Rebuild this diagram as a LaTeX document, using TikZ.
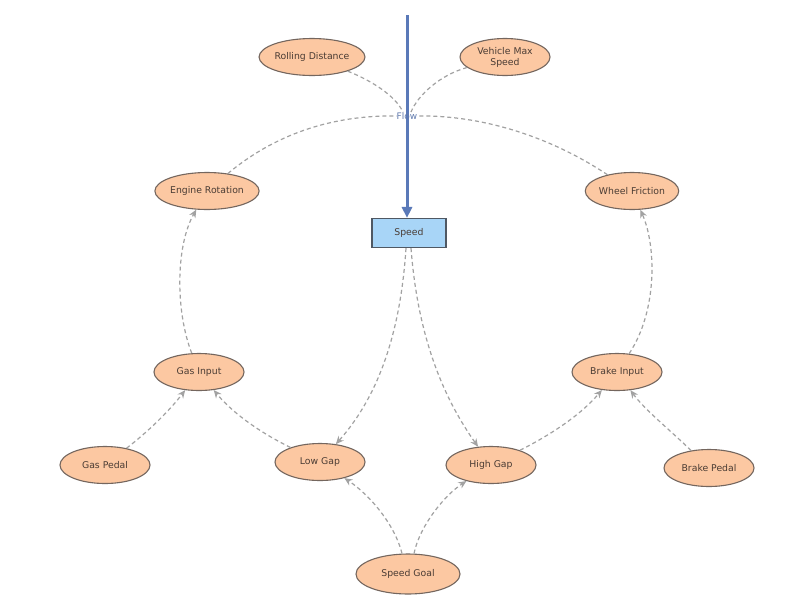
\documentclass[tikz,border=0pt]{standalone}
\usepackage{fontspec}
\setmainfont{DejaVu Sans}
\usetikzlibrary{arrows.meta,shapes.geometric}
\definecolor{peach}{HTML}{FCC8A2}
\definecolor{peachborder}{HTML}{74665E}
\definecolor{boxblue}{HTML}{A8D5F7}
\definecolor{boxborder}{HTML}{4F5863}
\definecolor{flowblue}{HTML}{5A79B8}
\definecolor{linkgray}{HTML}{A2A2A2}
\definecolor{txt}{HTML}{4A3C34}
\tikzset{
  var/.style={ellipse, draw=peachborder, fill=peach, line width=1.1pt, minimum width=90pt, minimum height=37pt, inner sep=0pt, align=center, text=txt, font=\fontsize{9.3}{11}\selectfont},
  stock/.style={rectangle, draw=boxborder, fill=boxblue, line width=1.1pt, minimum width=74pt, minimum height=29pt, inner sep=0pt, text=txt, font=\fontsize{9.3}{11}\selectfont},
  link/.style={draw=linkgray, line width=1.2pt, dash pattern=on 4pt off 3pt},
  linkarr/.style={link, -{Stealth[length=8pt,width=7pt,fill=linkgray]}},
  flowline/.style={draw=flowblue, line width=3pt},
}
\begin{document}
\begin{tikzpicture}[x=1pt,y=-1pt]
\useasboundingbox (0,0) rectangle (800,600);
\fill[white] (0,0) rectangle (800,600);

% nodes
\node[var] (rd) at (312,57) {Rolling Distance};
\node[var] (vms) at (505,57) {Vehicle Max\\Speed};
\node[var] (er) at (207,191) {Engine Rotation};
\node[var] (wf) at (632,191) {Wheel Friction};
\node[stock] (speed) at (409,233) {Speed};
\node[var] (gi) at (199,372) {Gas Input};
\node[var] (bi) at (617,372) {Brake Input};
\node[var] (gp) at (105,465) {Gas Pedal};
\node[var] (lg) at (320,462) {Low Gap};
\node[var] (hg) at (491,465) {High Gap};
\node[var] (bp) at (709,468) {Brake Pedal};
\node[var, minimum width=104pt, minimum height=40pt] (sg) at (408,574) {Speed Goal};

% flow
\coordinate (src) at (407,15);
\draw[flowline, -{Triangle[length=11pt,width=10pt]}] (src) -- (speed.north -| src);
\node[inner sep=0pt, text=flowblue!80!gray, font=\fontsize{9}{10}\selectfont] (flow) at (407,116) {Flow};
\coordinate (fl) at (403,112);
\coordinate (fr) at (411,112);

% links to flow
\draw[link] (rd) .. controls (370,80) and (395,95) .. (fl);
\draw[link] (vms) .. controls (440,75) and (418,95) .. (fr);
\draw[link] (er) .. controls (280,130) and (340,115) .. (flow.west);
\draw[link] (wf) .. controls (540,130) and (470,115) .. (flow.east);

% arrows
\draw[linkarr] (gi) .. controls (175,310) and (176,245) .. (er);
\draw[linkarr] (bi) .. controls (658,310) and (656,245) .. (wf);
\draw[linkarr] ([xshift=-3pt]speed.south) .. controls (400,340) and (375,400) .. (lg);
\draw[linkarr] ([xshift=2pt]speed.south) .. controls (418,340) and (445,400) .. (hg);
\draw[linkarr] (lg) .. controls (255,430) and (230,410) .. (gi);
\draw[linkarr] (gp) .. controls (150,430) and (170,410) .. (gi);
\draw[linkarr] (hg) .. controls (560,430) and (585,410) .. (bi);
\draw[linkarr] (bp) .. controls (670,430) and (645,410) .. (bi);
\draw[linkarr] ([xshift=-6pt]sg.north) .. controls (395,525) and (370,495) .. (lg);
\draw[linkarr] ([xshift=6pt]sg.north) .. controls (420,525) and (445,495) .. (hg);
\end{tikzpicture}
\end{document}
